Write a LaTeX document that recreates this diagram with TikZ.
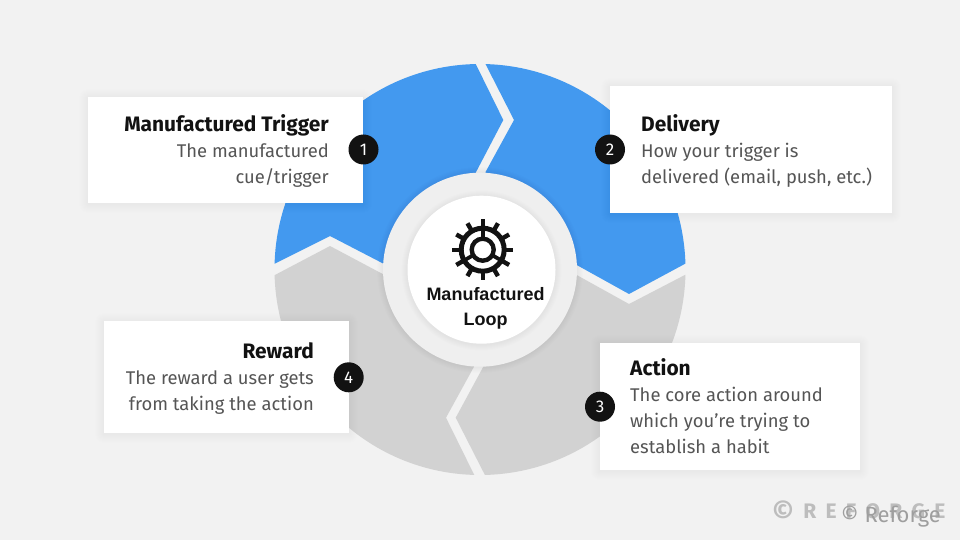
\documentclass[tikz,border=0pt]{standalone}
\usepackage{fontspec}
\setmainfont{Fira Sans}
\newfontfamily\arialfont{Liberation Sans}
\usetikzlibrary{positioning}
\definecolor{pagebg}{HTML}{F2F2F2}
\definecolor{loopblue}{HTML}{4399EF}
\definecolor{loopgray}{HTML}{D2D2D2}
\definecolor{ringgray}{HTML}{EFEFEF}
\definecolor{bodygray}{HTML}{555555}
\definecolor{markgray}{HTML}{BDBDBD}
\tikzset{
   card/.style={fill=white, inner sep=0pt, anchor=north west},
   badge/.style={circle, fill=black!93, text=white, minimum size=30pt, inner sep=0pt, font=\fontsize{17}{17}\selectfont},
   cardtext/.style={inner sep=0pt, text=bodygray, font=\fontsize{18.4}{26}\selectfont}
}
\newcommand{\cardtitle}[1]{{\color{black!93}\fontsize{20.9}{26}\selectfont\bfseries #1}}
% soft shadow below a card: x0, y0, x1, y1
\newcommand{\softbox}[4]{%
   \foreach \s in {1,...,9}
      \fill[black, opacity=0.005, rounded corners=\s pt] (#1-\s,#2-\s+1) rectangle (#3+\s,#4+\s+1);
}
\begin{document}
\begin{tikzpicture}[x=1pt,y=-1pt]
   \useasboundingbox (0,0) rectangle (960,540);
   \fill[pagebg] (0,0) rectangle (960,540);

   \begin{scope}
    \clip (480,269.5) circle (205.5);
    \fill[loopblue] (470.8,54) -- (503.3,120) -- (475.7,172.7) -- (480,270) -- (382.7,263.3) -- (330,236) -- (254,274) -- (254,54) -- cycle;
    \fill[loopblue] (480.4,54) -- (514,120) -- (485.7,171.7) -- (480,270) -- (576.7,265) -- (629,294) -- (706,252.5) -- (706,54) -- cycle;
    \fill[loopgray] (706,264) -- (629,304) -- (576.7,275) -- (480,270) -- (483.3,366.7) -- (455.7,417.7) -- (490,485) -- (706,485) -- cycle;
    \fill[loopgray] (479.2,485) -- (446,417.7) -- (474,366.7) -- (480,270) -- (382.7,274) -- (330,246) -- (254,286) -- (254,485) -- cycle;
   \end{scope}

   % centre disc
   \foreach \s in {1,...,6}
      \fill[black, opacity=0.006] (480,270) circle (97+\s);
   \fill[ringgray] (480,269.7) circle (97);
   \foreach \s in {1,...,6}
      \fill[black, opacity=0.006] (481.5,270.5) circle (74+\s);
   \fill[white] (481.5,269.7) circle (74);

   % gear
   \begin{scope}[shift={(482.7,249.7)}]
    \foreach \a in {0,30,...,330}
       \draw[line width=4.4pt, black!93] (\a:21) -- (\a:30.5);
    \draw[line width=5pt, black!93] (0,0) circle (21.5);
    \draw[line width=4.4pt, black!93] (0,0) circle (11);
    \foreach \a in {270,30,150}
       \draw[line width=3.8pt, black!93] (\a:11) -- (\a:21);
   \end{scope}
   \node[inner sep=0pt, align=center, font=\arialfont\bfseries\fontsize{18}{25}\selectfont, text=black!93] (loop) at (485.5,308) {Manufactured\\Loop};

   % cards
   \softbox{88}{97}{363}{203}
   \softbox{610}{86}{892}{213}
   \softbox{599.5}{343}{860}{470}
   \softbox{104}{321}{348.7}{433}
   \node[card, minimum width=275pt, minimum height=106pt] (card1) at (88,97) {};
   \node[card, minimum width=282pt, minimum height=127pt] (card2) at (610,86) {};
   \node[card, minimum width=260.5pt, minimum height=127pt] (card3) at (599.5,343) {};
   \node[card, minimum width=244.7pt, minimum height=112pt] (card4) at (104,321) {};

   \node[cardtext, align=right, anchor=north east] (text1) at (329,114) {\cardtitle{Manufactured Trigger}\\The manufactured\\cue/trigger};
   \node[cardtext, align=left, anchor=north west] (text2) at (641,114) {\cardtitle{Delivery}\\How your trigger is\\delivered (email, push, etc.)};
   \node[cardtext, align=left, anchor=north west] (text3) at (630,358) {\cardtitle{Action}\\The core action around\\which you’re trying to\\establish a habit};
   \node[cardtext, align=right, anchor=north east] (text4) at (314,342) {\cardtitle{Reward}\\The reward a user gets\\from taking the action};

   \node[badge] (badge1) at (363.5,149.5) {1};
   \node[badge] (badge2) at (610,149.5) {2};
   \node[badge] (badge3) at (600,406.7) {3};
   \node[badge] (badge4) at (348.7,377.3) {4};

   % watermarks
   \node[inner sep=0pt, anchor=west, text=markgray, font=\bfseries\fontsize{21}{21}\selectfont] (mark) at (772,511) {\spaceskip=9.3pt \raisebox{-3pt}{\fontsize{27}{21}\selectfont ©} R E F O R G E};
   \node[inner sep=0pt, anchor=east, text=black!38, font=\fontsize{22}{22}\selectfont] (credit) at (941,517) {© Reforge};
\end{tikzpicture}
\end{document}
